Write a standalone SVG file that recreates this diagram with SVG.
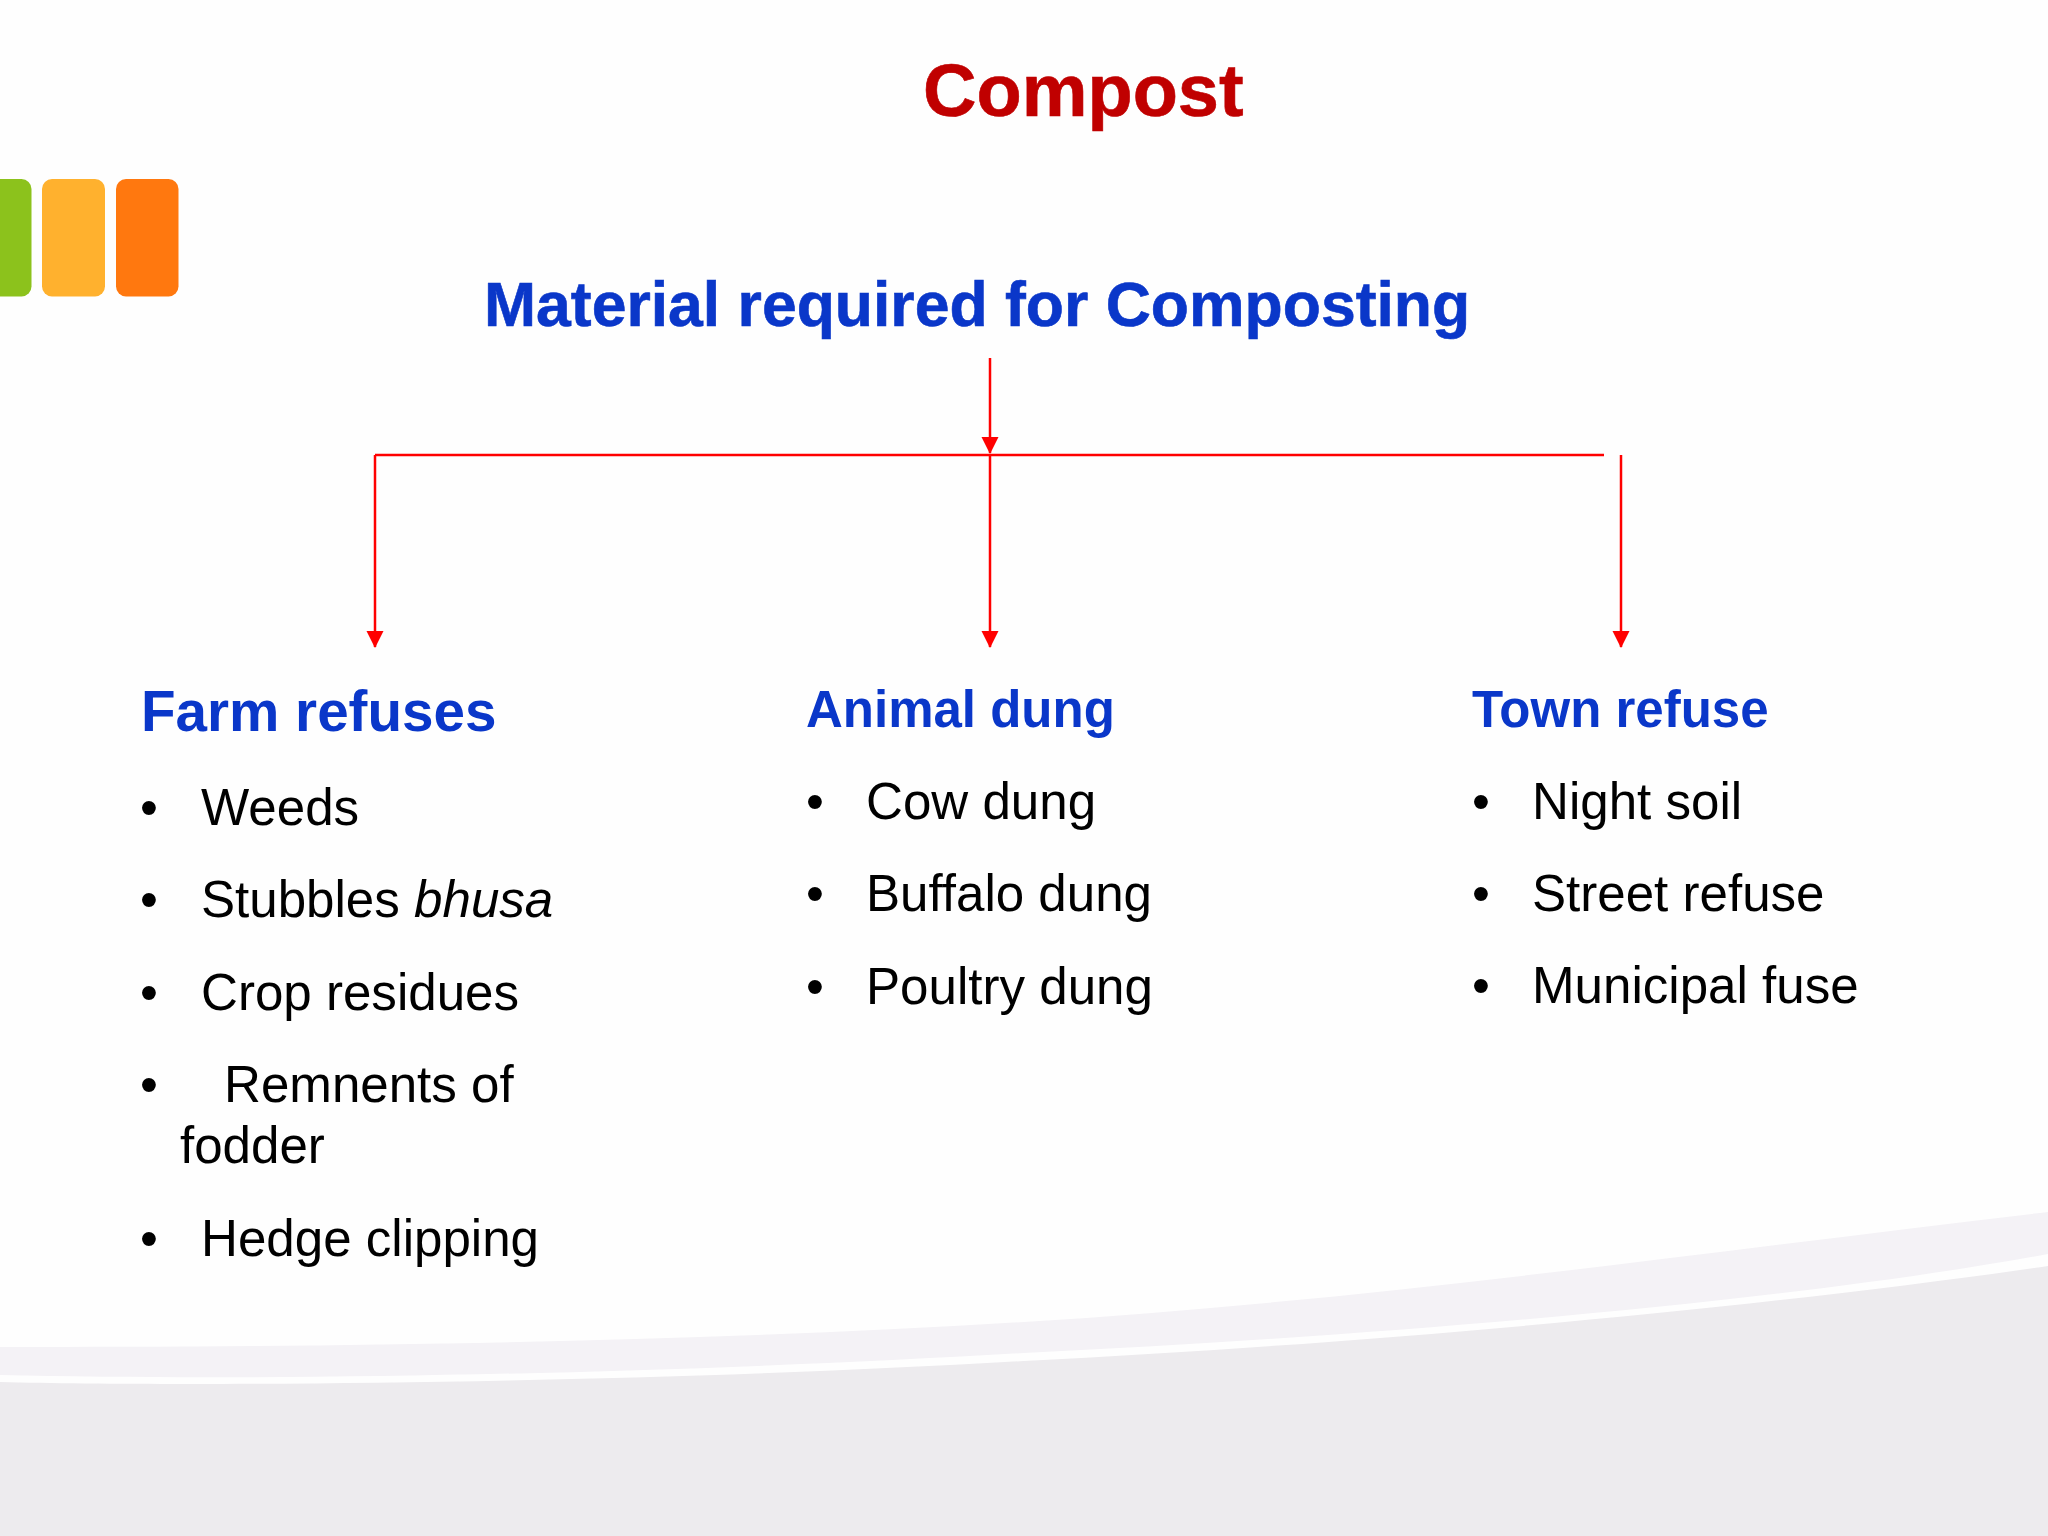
<svg xmlns="http://www.w3.org/2000/svg" width="2048" height="1536" viewBox="0 0 2048 1536">
<style>
text{font-family:"Liberation Sans",Arial,sans-serif}
.title{font-size:74px;font-weight:700;fill:#c00000;stroke:#c00000;stroke-width:.6}
.main{font-size:62.5px;font-weight:700;fill:#0a37c9;stroke:#0a37c9;stroke-width:.6}
.h1{font-size:56.6px;font-weight:700;fill:#0a37c9}
.h2{font-size:51px;font-weight:700;fill:#0a37c9}
.li{font-size:51.1px;fill:#000}
.c{stroke:#f00;stroke-width:2.5;fill:none}
</style>
<defs><marker id="a" markerUnits="userSpaceOnUse" markerWidth="18" markerHeight="18" refX="16" refY="9" orient="auto"><path d="M0 0.5L17 9L0 17.5z" fill="#f00"/></marker></defs>
<rect width="2048" height="1536" fill="#fefefe"/>
<g id="background">
<path d="M0 1347C300 1347 660 1344 1024 1322C1380 1300 1720 1250 2048 1212V1254C1800 1300 1400 1335 1024 1353C700 1372 300 1382 0 1375z" fill="#f4f2f6"/>
<path d="M0 1382C200 1387 650 1383 1024 1361C1400 1342 1780 1305 2048 1266V1536H0z" fill="#edebee"/>
</g>
<g id="tabs">
<rect x="-20" y="179" width="51.5" height="117.500" rx="10" fill="#8cc21c"/>
<rect x="42" y="179" width="63" height="117.500" rx="10" fill="#ffb12e"/>
<rect x="116" y="179" width="62.500" height="117.500" rx="10" fill="#ff780f"/>
</g>
<g id="connectors">
<path class="c" d="M990 358V453" marker-end="url(#a)"/>
<path class="c" d="M375 455H1604"/>
<path class="c" d="M375 455V647" marker-end="url(#a)"/>
<path class="c" d="M990 455V647" marker-end="url(#a)"/>
<path class="c" d="M1621 455V647" marker-end="url(#a)"/>
</g>
<g id="title"><text class="title" x="923" y="116">Compost</text></g>
<g id="subtitle"><text class="main" x="484" y="325.500">Material required for Composting</text></g>
<g id="farm">
<text class="h1" x="141" y="731">Farm refuses</text>
<text class="li" x="140" y="825">•</text><text class="li" x="201" y="825">Weeds</text>
<text class="li" x="140" y="917">•</text><text class="li" x="201" y="917">Stubbles <tspan font-style="italic">bhusa</tspan></text>
<text class="li" x="140" y="1010">•</text><text class="li" x="201" y="1010">Crop residues</text>
<text class="li" x="140" y="1102">•</text><text class="li" x="224" y="1102">Remnents of</text>
<text class="li" x="180" y="1163">fodder</text>
<text class="li" x="140" y="1256">•</text><text class="li" x="201" y="1256">Hedge clipping</text>
</g>
<g id="animal">
<text class="h2" x="806" y="727">Animal dung</text>
<text class="li" x="806" y="819">•</text><text class="li" x="866" y="819">Cow dung</text>
<text class="li" x="806" y="911">•</text><text class="li" x="866" y="911">Buffalo dung</text>
<text class="li" x="806" y="1004">•</text><text class="li" x="866" y="1004">Poultry dung</text>
</g>
<g id="town">
<text class="h2" x="1472" y="727">Town refuse</text>
<text class="li" x="1472" y="819">•</text><text class="li" x="1532" y="819">Night soil</text>
<text class="li" x="1472" y="911">•</text><text class="li" x="1532" y="911">Street refuse</text>
<text class="li" x="1472" y="1003">•</text><text class="li" x="1532" y="1003">Municipal fuse</text>
</g>
</svg>
